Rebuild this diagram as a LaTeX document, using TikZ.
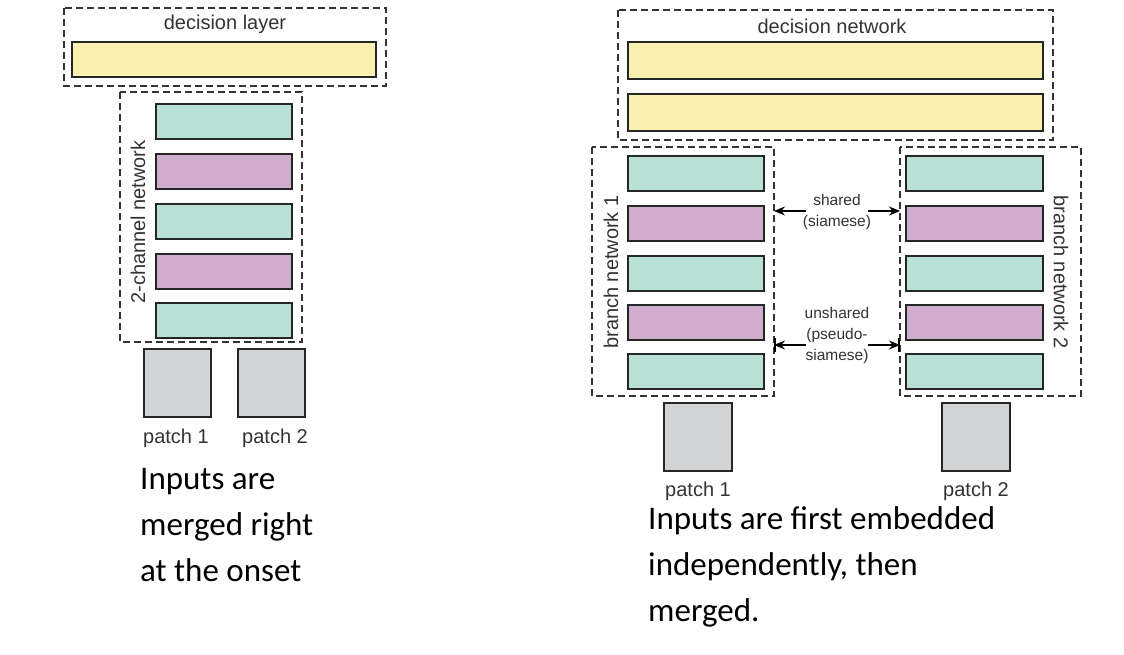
\documentclass[tikz,border=0pt]{standalone}
\usepackage{fontspec}
\setmainfont{Liberation Sans}
\newfontfamily\calfont{Carlito}
\usetikzlibrary{arrows.meta}
\definecolor{teal1}{HTML}{B9E0D6}
\definecolor{purp}{HTML}{D1ADCF}
\definecolor{yel}{HTML}{F8EFB0}
\definecolor{pgray}{HTML}{D2D3D5}
\definecolor{txt}{HTML}{333333}
\begin{document}
\begin{tikzpicture}[x=1pt,y=-1pt,
 dbox/.style={draw=black!80,line width=1.2pt,dash pattern=on 7pt off 4pt},
 tbar/.style={draw=black!85,fill=teal1,line width=1.3pt},
 pbar/.style={draw=black!85,fill=purp,line width=1.3pt},
 ybar/.style={draw=black!85,fill=yel,line width=1.3pt},
 patch/.style={draw=black!85,fill=pgray,line width=1.3pt},
 lbl/.style={font=\fontsize{20}{22}\selectfont,text=txt,inner sep=0pt},
 small/.style={font=\fontsize{15.5}{21}\selectfont,text=txt,inner sep=0pt,align=center},
 big/.style={font=\calfont\fontsize{33}{46}\selectfont,inner sep=0pt,align=left,anchor=north west},
 arr/.style={-{Stealth[length=11pt,width=9pt]},line width=1.2pt}]
\useasboundingbox (0,0) rectangle (1124,654);
% left
\draw[dbox] (64,8) rectangle (386,86);
\node[lbl] (ldl) at (225,24) {decision layer};
\draw[ybar] (72,42) rectangle (376,77);
\draw[dbox] (120,92) rectangle (302,342);
\node[lbl,rotate=90] (l2c) at (138,222) {2-channel network};
\foreach \y/\s in {104/tbar,154/pbar,204/tbar,254/pbar,303/tbar}
  \draw[\s] (156,\y) rectangle (292,\y+35);
\draw[patch] (144,349) rectangle (211,417);
\draw[patch] (238,349) rectangle (305,417);
\node[lbl] (lp1) at (176,438) {patch 1};
\node[lbl] (lp2) at (275,438) {patch 2};
\node[big] (lt) at (140,468) {Inputs are\\merged right\\at the onset};
% right
\draw[dbox] (618,10) rectangle (1053,140);
\node[lbl] (rdn) at (832,26) {decision network};
\draw[ybar] (628,42) rectangle (1043,79);
\draw[ybar] (628,94) rectangle (1043,131);
\draw[dbox] (592,147) rectangle (774,396);
\draw[dbox] (900,147) rectangle (1081,396);
\coordinate (b1e1) at (774,211); \coordinate (b2e1) at (900,211);
\coordinate (b1e2) at (774,345); \coordinate (b2e2) at (900,345);
\node[lbl,rotate=90] (rb1) at (611,272) {branch network 1};
\node[lbl,rotate=-90] (rb2) at (1061,272) {branch network 2};
\foreach \y/\s in {156/tbar,206/pbar,256/tbar,305/pbar,354/tbar}{
  \draw[\s] (628,\y) rectangle (764,\y+35);
  \draw[\s] (906,\y) rectangle (1043,\y+35);}
\node[small] (sh) at (837,212) {shared\\(siamese)};
\node[small] (ush) at (837,335) {unshared\\(pseudo-\\siamese)};
\draw[arr] (806,211) -- (b1e1);
\draw[arr] (868,211) -- (b2e1);
\draw[arr] (806,345) -- (b1e2);
\draw[arr] (868,345) -- (b2e2);
\draw[line width=1.2pt] (775,338) -- (775,352) (899,338) -- (899,352);
\draw[patch] (664,403) rectangle (732,471);
\draw[patch] (942,403) rectangle (1010,471);
\node[lbl] (rp1) at (698,491) {patch 1};
\node[lbl] (rp2) at (976,491) {patch 2};
\node[big] (rt) at (648,506) {Inputs are first embedded\\independently, then\\merged.};
\end{tikzpicture}
\end{document}
